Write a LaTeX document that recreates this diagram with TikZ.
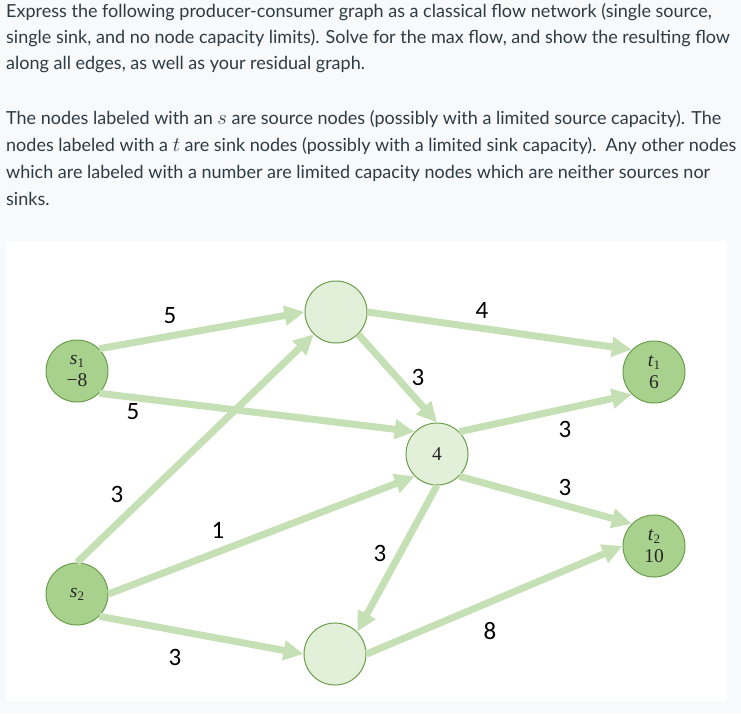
\documentclass[tikz,border=0pt]{standalone}
\usepackage{fontspec}
\setmainfont{Lato}
\newfontfamily\edgefont{Carlito}
\newfontfamily\nodefont{Liberation Serif}
\usetikzlibrary{arrows.meta}
\definecolor{pagebg}{HTML}{F8F9FB}
\definecolor{txtcol}{HTML}{2D3B45}
\definecolor{edgecol}{HTML}{C5E0B4}
\definecolor{darkfill}{HTML}{A9D18E}
\definecolor{lightfill}{HTML}{E2F0D9}
\definecolor{bordercol}{HTML}{6B9E4A}
\newcommand{\nsub}[2]{\textit{#1}\raisebox{-3pt}{\fontsize{13}{13}\selectfont #2}}
\begin{document}
\begin{tikzpicture}[x=1pt,y=-1pt,
  txt/.style={anchor=base west,inner sep=0pt,text=txtcol,font=\fontsize{18}{20}\selectfont},
  endnode/.style={circle,draw=bordercol,line width=1pt,fill=darkfill,minimum size=62pt,inner sep=0pt,align=center,text=black!85,font=\nodefont\fontsize{19.5}{22}\selectfont},
  midnode/.style={circle,draw=bordercol,line width=1pt,fill=lightfill,minimum size=62pt,inner sep=0pt,text=black!85,font=\nodefont\fontsize{19.5}{20}\selectfont},
  edge/.style={draw=edgecol,line width=7pt,-{Triangle[length=20pt,width=19pt]}},
  elab/.style={inner sep=0pt,font=\edgefont\fontsize{25}{25}\selectfont}]
\useasboundingbox (0,0) rectangle (741,713);
\fill[pagebg] (0,0) rectangle (741,713);
\fill[white] (6,241) rectangle (727,701);
% text
\node[txt] (l1) at (6,17) {Express the following producer-consumer graph as a classical flow network (single source,};
\node[txt] (l2) at (6,43) {single sink, and no node capacity limits). Solve for the max flow, and show the resulting flow};
\node[txt] (l3) at (6,69) {along all edges, as well as your residual graph.};
\node[txt] (l4) at (6,124) {The nodes labeled with an {\fontsize{20}{20}\selectfont$s$} are source nodes (possibly with a limited source capacity). The};
\node[txt] (l5) at (6,151) {nodes labeled with a {\fontsize{22}{20}\selectfont$t$} are sink nodes (possibly with a limited sink capacity).\ \ Any other nodes};
\node[txt] (l6) at (6,178) {which are labeled with a number are limited capacity nodes which are neither sources nor};
\node[txt] (l7) at (6,205) {sinks.};
% nodes
\node[endnode] (s1) at (77,371) {\nsub{s}{1}\\−8};
\node[endnode] (s2) at (77,594) {\raisebox{-4pt}{\nsub{s}{2}}};
\node[midnode] (top) at (336,312) {};
\node[midnode] (n4) at (437,454) {4};
\node[midnode] (bot) at (335,654) {};
\node[endnode] (t1) at (654,372) {\nsub{t}{1}\\6};
\node[endnode] (t2) at (654,546) {\nsub{t}{2}\\10};
% edges
\draw[edge] (s1.north east) -- (top.west);
\draw[edge] (s1.south east) -- (n4.north west);
\draw[edge] (top.east) -- (t1.north west);
\draw[edge] (top.south east) -- (n4.north);
\draw[edge] (n4.north east) -- (t1.south west);
\draw[edge] (n4.south east) -- (t2.north west);
\draw[edge] (n4.south) -- (bot.north east);
\draw[edge] (s2.north) -- (top.south west);
\draw[edge] (s2.east) -- (n4.south west);
\draw[edge] (s2.south east) -- (bot.west);
\draw[edge] (bot.east) -- (t2.west);
% labels
\node[elab] (e1) at (170,316) {5};
\node[elab] (e2) at (133,412) {5};
\node[elab] (e3) at (482,310) {4};
\node[elab] (e4) at (418,377) {3};
\node[elab] (e5) at (565,429) {3};
\node[elab] (e6) at (565,487) {3};
\node[elab] (e7) at (117,494) {3};
\node[elab] (e8) at (218,530) {1};
\node[elab] (e9) at (380,553) {3};
\node[elab] (e10) at (175,657) {3};
\node[elab] (e11) at (490,631) {8};
\end{tikzpicture}
\end{document}
